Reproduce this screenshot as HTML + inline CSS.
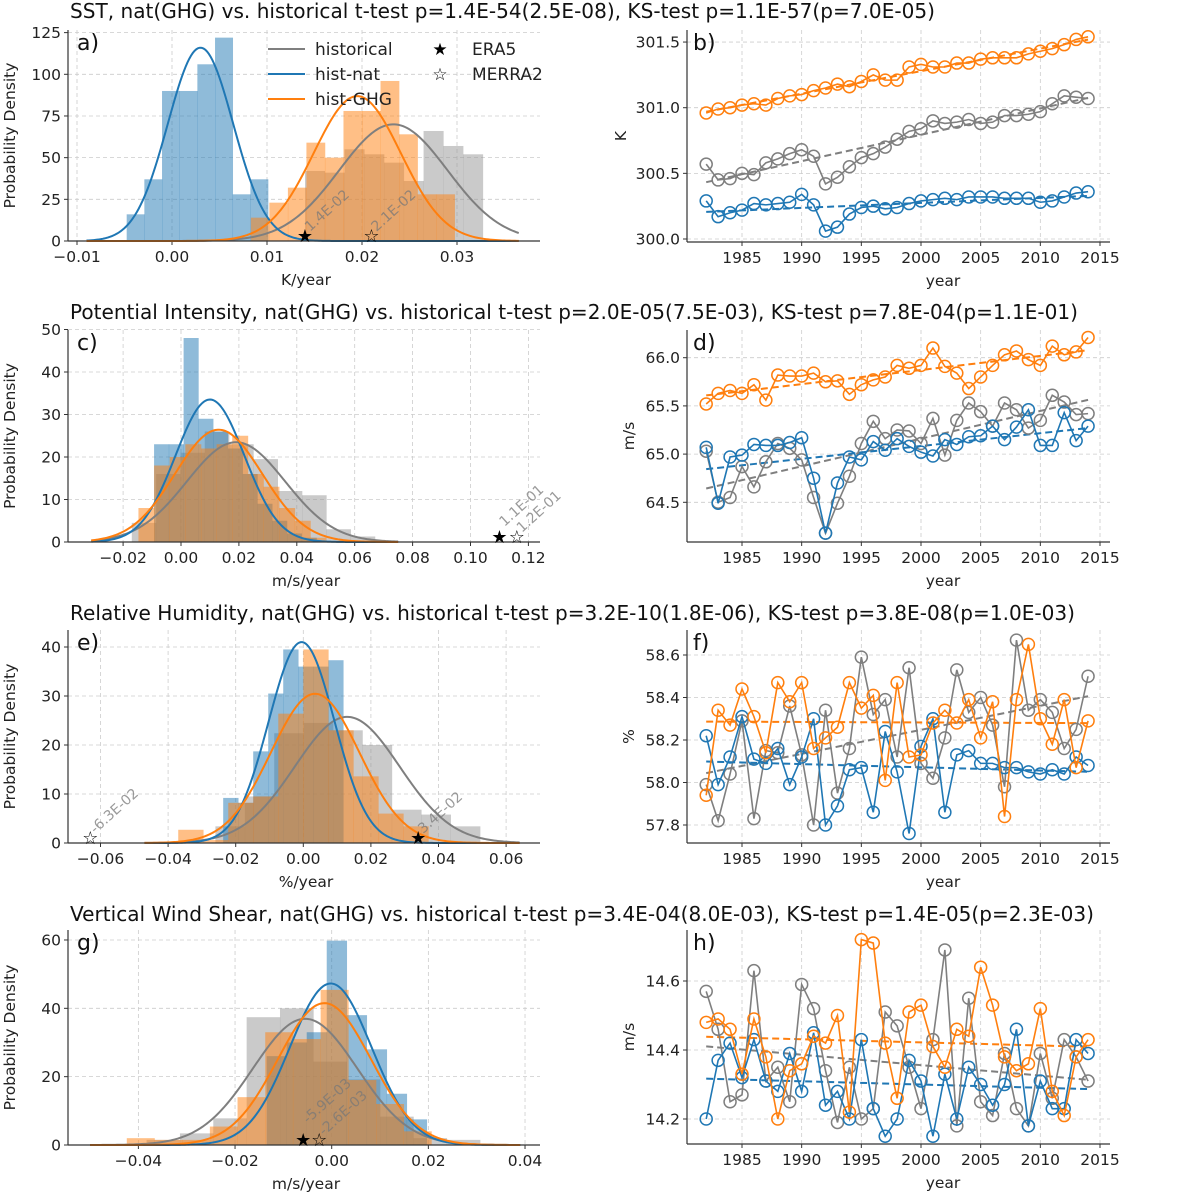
<!DOCTYPE html>
<html><head><meta charset="utf-8">
<style>
html,body{margin:0;padding:0;background:#fff;}
svg{display:block;font-family:"DejaVu Sans","Liberation Sans",sans-serif;}
</style></head>
<body>
<svg id="fig" width="1200" height="1200" viewBox="0 0 1200 1200" xmlns="http://www.w3.org/2000/svg">
<rect x="0" y="0" width="1200" height="1200" fill="#fff"/>
<text x="70" y="18" font-size="20" fill="#111" textLength="865" lengthAdjust="spacingAndGlyphs">SST, nat(GHG) vs. historical t-test p=1.4E-54(2.5E-08), KS-test p=1.1E-57(p=7.0E-05)</text>
<text x="70" y="319" font-size="20" fill="#111" textLength="1008" lengthAdjust="spacingAndGlyphs">Potential Intensity, nat(GHG) vs. historical t-test p=2.0E-05(7.5E-03), KS-test p=7.8E-04(p=1.1E-01)</text>
<text x="70" y="620" font-size="20" fill="#111" textLength="1005" lengthAdjust="spacingAndGlyphs">Relative Humidity, nat(GHG) vs. historical t-test p=3.2E-10(1.8E-06), KS-test p=3.8E-08(p=1.0E-03)</text>
<text x="70" y="921" font-size="20" fill="#111" textLength="1024" lengthAdjust="spacingAndGlyphs">Vertical Wind Shear, nat(GHG) vs. historical t-test p=3.4E-04(8.0E-03), KS-test p=1.4E-05(p=2.3E-03)</text>
</svg>
<script>
// ---------- DATA ----------
const years = [1982,1983,1984,1985,1986,1987,1988,1989,1990,1991,1992,1993,1994,1995,1996,1997,1998,1999,2000,2001,2002,2003,2004,2005,2006,2007,2008,2009,2010,2011,2012,2013,2014];
const b_hist = [300.57,300.45,300.46,300.50,300.49,300.58,300.61,300.65,300.68,300.63,300.42,300.47,300.55,300.62,300.65,300.70,300.76,300.82,300.84,300.90,300.88,300.89,300.91,300.88,300.89,300.94,300.94,300.95,300.97,301.03,301.09,301.08,301.07];
const b_nat = [300.29,300.17,300.20,300.22,300.27,300.26,300.27,300.28,300.34,300.26,300.06,300.09,300.19,300.24,300.25,300.23,300.24,300.27,300.29,300.30,300.31,300.30,300.32,300.32,300.32,300.31,300.31,300.31,300.28,300.29,300.32,300.35,300.36];
const b_ghg = [300.96,300.99,301.00,301.02,301.03,301.02,301.07,301.09,301.10,301.13,301.15,301.18,301.16,301.20,301.25,301.21,301.21,301.31,301.33,301.31,301.31,301.34,301.34,301.37,301.38,301.38,301.38,301.41,301.43,301.45,301.48,301.52,301.54];
const d_hist = [65.03,64.50,64.55,64.87,64.66,64.92,65.11,65.06,64.94,64.55,64.18,64.49,64.77,65.11,65.34,65.16,65.25,65.24,65.11,65.37,64.99,65.35,65.53,65.44,65.29,65.53,65.46,65.27,65.35,65.61,65.54,65.41,65.42];
const d_nat = [65.07,64.49,64.97,64.99,65.10,65.09,65.09,65.12,65.17,64.75,64.18,64.70,64.97,64.94,65.13,65.04,65.16,65.08,65.02,64.98,65.15,65.10,65.18,65.19,65.29,65.15,65.28,65.46,65.09,65.09,65.43,65.14,65.29];
const d_ghg = [65.52,65.63,65.66,65.63,65.72,65.56,65.82,65.81,65.81,65.84,65.75,65.76,65.62,65.72,65.77,65.80,65.92,65.89,65.92,66.10,65.91,65.84,65.68,65.80,65.92,66.03,66.07,65.98,65.92,66.12,66.03,66.06,66.21];
const f_hist = [57.99,57.82,58.04,58.29,57.83,58.15,58.14,58.36,58.13,57.80,58.34,57.95,58.16,58.59,58.32,58.39,58.12,58.54,58.09,58.02,58.21,58.53,58.33,58.40,58.27,57.98,58.67,58.34,58.39,58.33,58.16,58.25,58.50];
const f_nat = [58.22,57.99,58.12,58.31,58.11,58.09,58.16,57.99,58.12,58.30,57.80,57.89,58.06,58.07,57.86,58.24,58.05,57.76,58.17,58.30,57.86,58.13,58.15,58.09,58.09,58.07,58.07,58.05,58.04,58.06,58.04,58.12,58.08];
const f_ghg = [57.94,58.34,58.27,58.44,58.31,58.14,58.47,58.38,58.47,58.16,58.21,58.26,58.47,58.35,58.41,58.01,58.47,58.12,58.13,58.28,58.34,58.28,58.39,58.21,58.38,57.84,58.39,58.65,58.30,58.18,58.39,58.07,58.29];
const h_hist = [14.57,14.46,14.25,14.27,14.63,14.31,14.35,14.25,14.59,14.52,14.34,14.19,14.35,14.20,14.23,14.51,14.47,14.35,14.23,14.43,14.69,14.18,14.55,14.25,14.21,14.39,14.23,14.18,14.39,14.26,14.43,14.38,14.31];
const h_nat = [14.20,14.37,14.42,14.32,14.43,14.31,14.28,14.39,14.28,14.45,14.24,14.28,14.20,14.43,14.23,14.15,14.20,14.37,14.31,14.15,14.33,14.20,14.35,14.30,14.24,14.30,14.46,14.18,14.31,14.23,14.23,14.43,14.39];
const h_ghg = [14.48,14.49,14.46,14.33,14.49,14.38,14.20,14.34,14.36,14.44,14.42,14.50,14.22,14.72,14.71,14.42,14.26,14.51,14.53,14.41,14.35,14.46,14.44,14.64,14.53,14.38,14.34,14.36,14.52,14.28,14.21,14.38,14.43];

const a_grayBins = [0.0140, 0.00208]; const a_gray = [42,41,55,52,47,36,66,57,52];
const a_blueBins = [-0.00477, 0.00186]; const a_blue = [16,37,90,90,106,122,28,37];
const a_orangeBins = [0.0083, 0.00195]; const a_orange = [14,23,32,59,50,78,78,96,64,28,28];
const a_mean = [0.0233, 0.0030, 0.0195]; const a_sd = [0.0057, 0.00344, 0.00459];
const a_stars = [0.014, 0.021]; const a_starLabels = ["1.4E-02","2.1E-02"];

const c_grayBins = [-0.017, 0.0084]; const c_gray = [4.5,16,21,26,23,19.5,12,11,3,1.3];
const c_blueBins = [-0.0093, 0.0051]; const c_blue = [23,23,48,29,26,22,16,9,5,2,1];
const c_orangeBins = [-0.0147, 0.0054]; const c_orange = [8,18,20,23,22,23,25,16,13,8,5,1];
const c_mean = [0.019, 0.010, 0.013]; const c_sd = [0.017, 0.0119, 0.0151];
const c_stars = [0.110, 0.116]; const c_starLabels = ["1.1E-01","1.2E-01"];

const e_grayBins = [-0.026, 0.0087]; const e_gray = [3.4,9.5,22.4,24.5,23,20,6.8,5.8,3.4];
const e_blueBins = [-0.0237, 0.00444]; const e_blue = [9.2,8.2,18.7,30.5,39.5,36,36,37.3];
const e_orangeBins = [-0.037, 0.0074]; const e_orange = [2.7,0.6,8.2,9.5,26.4,39.5,23,13.6,6,3.4];
const e_mean = [0.013, -0.0005, 0.0035]; const e_sd = [0.0155, 0.00973, 0.0131];
const e_stars = [0.034, -0.063]; const e_starLabels = ["3.4E-02","-6.3E-02"];

const g_grayBins = [-0.0383, 0.0069]; const g_gray = [1.5,3.4,7.8,37.4,40,24.4,19.2,8.3,2,1.5];
const g_blueBins = [-0.01345, 0.00414]; const g_blue = [26,30,33,59.8,38,28,15,7.5];
const g_orangeBins = [-0.0424, 0.00573]; const g_orange = [2,1.5,1.5,5.4,14,33,31,45.4,19,12,4];
const g_mean = [-0.0055, -0.0002, -0.0015]; const g_sd = [0.0108, 0.00844, 0.00961];
const g_stars = [-0.0059, -0.0026]; const g_starLabels = ["-5.9E-03","-2.6E-03"];

const a_xticks = [-0.01,0,0.01,0.02,0.03]; const a_xtl = ["\u22120.01","0.00","0.01","0.02","0.03"];
const a_yticks = [0,25,50,75,100,125];
const c_xticks = [-0.02,0,0.02,0.04,0.06,0.08,0.10,0.12]; const c_xtl = ["\u22120.02","0.00","0.02","0.04","0.06","0.08","0.10","0.12"];
const c_yticks = [0,10,20,30,40,50];
const e_xticks = [-0.06,-0.04,-0.02,0,0.02,0.04,0.06]; const e_xtl = ["\u22120.06","\u22120.04","\u22120.02","0.00","0.02","0.04","0.06"];
const e_yticks = [0,10,20,30,40];
const g_xticks = [-0.04,-0.02,0,0.02,0.04]; const g_xtl = ["\u22120.04","\u22120.02","0.00","0.02","0.04"];
const g_yticks = [0,20,40,60];
const yearTicks = [1985,1990,1995,2000,2005,2010,2015];
const b_yticks = [300.0,300.5,301.0,301.5]; const b_ytl = ["300.0","300.5","301.0","301.5"];
const d_yticks = [64.5,65.0,65.5,66.0]; const d_ytl = ["64.5","65.0","65.5","66.0"];
const f_yticks = [57.8,58.0,58.2,58.4,58.6]; const f_ytl = ["57.8","58.0","58.2","58.4","58.6"];
const h_yticks = [14.2,14.4,14.6]; const h_ytl = ["14.2","14.4","14.6"];

// ---------- DRAWING ----------
const NS = "http://www.w3.org/2000/svg";
const svg = document.getElementById('fig');
const C_GRAY = "#7f7f7f", C_BLUE = "#1f77b4", C_ORANGE = "#ff7f0e";
const FS = 15.5;
function mk(tag, attrs, parent) {
  const e = document.createElementNS(NS, tag);
  for (const k in attrs) e.setAttribute(k, attrs[k]);
  (parent || svg).appendChild(e);
  return e;
}
function txt(s, attrs, parent) { const t = mk('text', attrs, parent); t.textContent = s; return t; }

function axesFrame(p, name) {
  const g = mk('g', {});
  
  
  return g;
}
function gridAndTicks(g, p, xt, xtl, yt, ytl, X, Y) {
  xt.forEach((v, i) => {
    const x = X(v);
    const gl = mk('line', {x1:x, x2:x, y1:p.top, y2:p.bot, stroke:"#ccc", "stroke-width":0.8, "stroke-dasharray":"4,3"}, g);
    
    
    mk('line', {x1:x, x2:x, y1:p.bot, y2:p.bot+4, stroke:"#333", "stroke-width":1}, g);
    const t = txt(xtl[i], {x:x, y:p.bot+21, "font-size":FS, "text-anchor":"middle", fill:"#222"}, g);
    
    
  });
  yt.forEach((v, i) => {
    const y = Y(v);
    const gl = mk('line', {x1:p.left, x2:p.right, y1:y, y2:y, stroke:"#ccc", "stroke-width":0.8, "stroke-dasharray":"4,3"}, g);
    
    
    mk('line', {x1:p.left-4, x2:p.left, y1:y, y2:y, stroke:"#333", "stroke-width":1}, g);
    if (ytl) {
      const t = txt(ytl[i], {x:p.left-7, y:y+5.5, "font-size":FS, "text-anchor":"end", fill:"#222"}, g);
      
      
    }
  });
}
function spines(g, p) {
  const s1 = mk('line', {x1:p.left, x2:p.left, y1:p.top, y2:p.bot, stroke:"#333", "stroke-width":1.2}, g);
  
  
  const s2 = mk('line', {x1:p.left, x2:p.right, y1:p.bot, y2:p.bot, stroke:"#333", "stroke-width":1.2}, g);
  
  
}

function histPanel(p) {
  const X = v => p.x0 + v * p.xs;
  const Y = v => p.bot - v * p.ys;
  const g = axesFrame(p, 'histogram-panel-' + p.letter);
  gridAndTicks(g, p, p.xticks, p.xtl, p.yticks, null, X, Y);
  const series = [[p.grayBins, p.gray, "rgba(150,150,150,0.5)", 'hist-bar-historical'],
                  [p.blueBins, p.blue, "rgba(31,119,180,0.5)", 'hist-bar-hist-nat'],
                  [p.orangeBins, p.orange, "rgba(255,127,14,0.5)", 'hist-bar-hist-ghg']];
  series.forEach(s => {
    const [bins, h, col, nm] = s;
    h.forEach((v, i) => {
      const x0 = X(bins[0] + i * bins[1]), x1 = X(bins[0] + (i+1) * bins[1]);
      const r = mk('rect', {x:x0, y:Y(v), width:x1-x0+0.3, height:p.bot - Y(v), fill:col}, g);
      
      
    });
  });
  const cols = [C_GRAY, C_BLUE, C_ORANGE];
  const cnames = ['fit-curve-historical', 'fit-curve-hist-nat', 'fit-curve-hist-ghg'];
  for (let k = 0; k < 3; k++) {
    const m = p.mean[k], s = p.sd[k];
    let d = "";
    for (let i = 0; i <= 240; i++) {
      const x = p.cmin + (p.cmax - p.cmin) * i / 240;
      const y = Math.exp(-0.5 * ((x - m) / s) ** 2) / (s * Math.sqrt(2 * Math.PI));
      d += (i ? "L" : "M") + X(x).toFixed(2) + "," + Y(y).toFixed(2);
    }
    const path = mk('path', {d:d, fill:"none", stroke:cols[k], "stroke-width":2}, g);
    
    
  }
  spines(g, p);
  const glyph = ["\u2605", "\u2606"];
  const snames = ['era5-star', 'merra2-star'];
  p.stars.forEach((v, i) => {
    const st = txt(glyph[i], {x:X(v), y:p.bot + 1, "font-size":18, "text-anchor":"middle", fill:"#000"}, g);
    
    
    const lx = X(v) + 5, ly = p.bot - 9 - (p.lblShift ? p.lblShift[i] : 0);
    const lb = txt(p.starLabels[i], {x:lx, y:ly, "font-size":14, fill:"rgba(120,120,120,0.75)", transform:"rotate(-42 " + lx + " " + ly + ")"}, g);
    
    
  });
  const lt = txt(p.letter + ")", {x:p.left + 9, y:p.top + 20, "font-size":22, fill:"#111"}, g);
  
  
  const yl = txt("Probability Density", {x:0, y:0, "font-size":FS, "text-anchor":"middle", fill:"#222", transform:"translate(15," + ((p.top+p.bot)/2) + ") rotate(-90)"}, g);
  
  
  const xl = txt(p.xlabel, {x:(p.left+p.right)/2 + p.xlOff, y:p.bot + 44, "font-size":FS, "text-anchor":"middle", fill:"#222"}, g);
  
  
  p.yticks.forEach(v => {
    const t = txt(String(v), {x:p.left - 7, y:Y(v) + 5.5, "font-size":FS, "text-anchor":"end", fill:"#222"}, g);
    
    
  });
}

function fitLine(xs, ys) {
  const n = xs.length; let sx=0, sy=0, sxx=0, sxy=0;
  for (let i = 0; i < n; i++) { sx += xs[i]; sy += ys[i]; sxx += xs[i]*xs[i]; sxy += xs[i]*ys[i]; }
  const b = (n*sxy - sx*sy) / (n*sxx - sx*sx);
  return [b, (sy - b*sx) / n];
}

function tsPanel(p) {
  const X = v => 742 + (v - 1985) * (358 / 30);
  const Y = v => p.y0px - (v - p.y0) * p.ys;
  const g = axesFrame(p, 'timeseries-panel-' + p.letter);
  gridAndTicks(g, p, yearTicks, yearTicks.map(String), p.yticks, p.ytl, X, Y);
  const series = [[p.hist, C_GRAY, 'historical'], [p.nat, C_BLUE, 'hist-nat'], [p.ghg, C_ORANGE, 'hist-ghg']];
  series.forEach(s => {
    const [vals, col, nm] = s;
    const [b, a] = fitLine(years, vals);
    const tl = mk('line', {x1:X(years[0]), y1:Y(a + b*years[0]), x2:X(years[years.length-1]), y2:Y(a + b*years[years.length-1]), stroke:col, "stroke-width":2, "stroke-dasharray":"7,4"}, g);
    
    
  });
  series.forEach(s => {
    const [vals, col, nm] = s;
    const pts = vals.map((v, i) => X(years[i]).toFixed(2) + "," + Y(v).toFixed(2)).join(" ");
    const pl = mk('polyline', {points:pts, fill:"none", stroke:col, "stroke-width":1.6}, g);
    
    
    vals.forEach((v, i) => {
      const c = mk('circle', {cx:X(years[i]), cy:Y(v), r:6, fill:"none", stroke:col, "stroke-width":1.5}, g);
      
      
    });
  });
  spines(g, p);
  const lt = txt(p.letter + ")", {x:p.left + 6, y:p.top + 20, "font-size":22, fill:"#111"}, g);
  
  
  const yl = txt(p.ylabel, {x:0, y:0, "font-size":FS, "text-anchor":"middle", fill:"#222", transform:"translate(" + p.ylx + "," + ((p.top+p.bot)/2) + ") rotate(-90)"}, g);
  
  
  const xl = txt("year", {x:943, y:p.bot + 44, "font-size":FS, "text-anchor":"middle", fill:"#222"}, g);
  
  
}

histPanel({letter:'a', left:68, right:540, top:30, bot:241, x0:172, xs:9500, ys:1.667,
  xticks:a_xticks, xtl:a_xtl, yticks:a_yticks, grayBins:a_grayBins, gray:a_gray, blueBins:a_blueBins, blue:a_blue,
  orangeBins:a_orangeBins, orange:a_orange, mean:a_mean, sd:a_sd, cmin:-0.009, cmax:0.0365, stars:a_stars, starLabels:a_starLabels, xlabel:"K/year", xlOff:2});
histPanel({letter:'c', left:68, right:540, top:330, bot:542, x0:181, xs:2895, ys:4.25,
  xticks:c_xticks, xtl:c_xtl, yticks:c_yticks, grayBins:c_grayBins, gray:c_gray, blueBins:c_blueBins, blue:c_blue,
  orangeBins:c_orangeBins, orange:c_orange, mean:c_mean, sd:c_sd, cmin:-0.031, cmax:0.075, stars:c_stars, starLabels:c_starLabels, xlabel:"m/s/year", xlOff:2, lblShift:[6,0]});
histPanel({letter:'e', left:68, right:540, top:630, bot:843, x0:303.3, xs:3380, ys:4.9,
  xticks:e_xticks, xtl:e_xtl, yticks:e_yticks, grayBins:e_grayBins, gray:e_gray, blueBins:e_blueBins, blue:e_blue,
  orangeBins:e_orangeBins, orange:e_orange, mean:e_mean, sd:e_sd, cmin:-0.047, cmax:0.064, stars:e_stars, starLabels:e_starLabels, xlabel:"%/year", xlOff:2});
histPanel({letter:'g', left:68, right:540, top:930, bot:1145, x0:331.7, xs:4833, ys:3.417,
  xticks:g_xticks, xtl:g_xtl, yticks:g_yticks, grayBins:g_grayBins, gray:g_gray, blueBins:g_blueBins, blue:g_blue,
  orangeBins:g_orangeBins, orange:g_orange, mean:g_mean, sd:g_sd, cmin:-0.05, cmax:0.039, stars:g_stars, starLabels:g_starLabels, xlabel:"m/s/year", xlOff:2, lblShift:[12,0]});

tsPanel({letter:'b', left:687, right:1110, top:30, bot:242, y0:300.0, y0px:239, ys:131.3, yticks:b_yticks, ytl:b_ytl, hist:b_hist, nat:b_nat, ghg:b_ghg, ylabel:"K", ylx:626});
tsPanel({letter:'d', left:687, right:1110, top:330, bot:542, y0:64.5, y0px:502.3, ys:96.4, yticks:d_yticks, ytl:d_ytl, hist:d_hist, nat:d_nat, ghg:d_ghg, ylabel:"m/s", ylx:634});
tsPanel({letter:'f', left:687, right:1110, top:630, bot:843, y0:57.8, y0px:825, ys:212.5, yticks:f_yticks, ytl:f_ytl, hist:f_hist, nat:f_nat, ghg:f_ghg, ylabel:"%", ylx:634});
tsPanel({letter:'h', left:687, right:1110, top:930, bot:1144, y0:14.2, y0px:1119, ys:345, yticks:h_yticks, ytl:h_ytl, hist:h_hist, nat:h_nat, ghg:h_ghg, ylabel:"m/s", ylx:634});

const leg = mk('g', {});


const legNames = ["historical", "hist-nat", "hist-GHG"];
const legCols = [C_GRAY, C_BLUE, C_ORANGE];
legNames.forEach((n, i) => {
  const y = 49 + i * 25;
  const l = mk('line', {x1:268, x2:305, y1:y, y2:y, stroke:legCols[i], "stroke-width":2}, leg);
  
  
  const t = txt(n, {x:315, y:y + 6, "font-size":17, fill:"#222"}, leg);
  
  
});
const legStars = [["\u2605", "ERA5"], ["\u2606", "MERRA2"]];
legStars.forEach((s, i) => {
  const y = 49 + i * 25;
  const g1 = txt(s[0], {x:440, y:y + 6, "font-size":17, "text-anchor":"middle", fill:"#000"}, leg);
  
  
  const t = txt(s[1], {x:472, y:y + 6, "font-size":17, fill:"#222"}, leg);
  
  
});
</script>
</body></html>
